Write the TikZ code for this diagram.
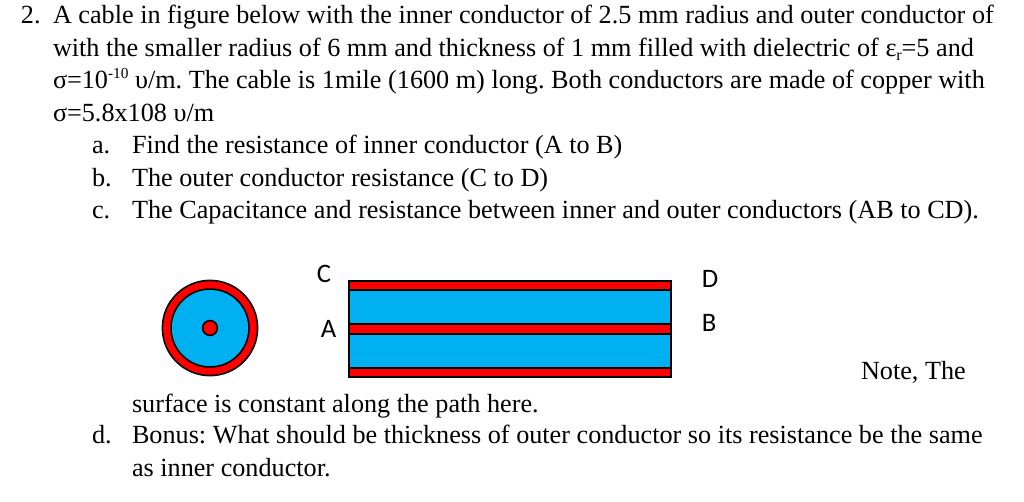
\documentclass[tikz,border=0pt]{standalone}
\usepackage{fontspec}
\setmainfont{Liberation Serif}
\newfontfamily\labelfont{Carlito}
\definecolor{cablered}{RGB}{255,0,0}
\definecolor{cableblue}{RGB}{0,176,240}
\frenchspacing
\tikzset{
  txt/.style={anchor=base west,inner sep=0pt,outer sep=0pt,font=\fontsize{19.65pt}{22pt}\selectfont},
  lbl/.style={anchor=base,inner sep=0pt,outer sep=0pt,font=\labelfont\fontsize{20pt}{22pt}\selectfont},
  metal/.style={draw=black,line width=1.2pt,fill=cablered},
  dielectric/.style={draw=black,line width=1.2pt,fill=cableblue}
}
\newcommand{\mhosym}{υ}
\begin{document}
\begin{tikzpicture}[x=0.75pt,y=-0.75pt]
\useasboundingbox (0,0) rectangle (1024,501);
\fill[white] (0,0) rectangle (1024,501);
% text
\node[txt] (n2) at (21,23.5) {2.};
\node[txt] (l1) at (53,23.5) {A cable in figure below with the inner conductor of 2.5 mm radius and outer conductor of};
\node[txt] (l2) at (53,56.5) {with the smaller radius of 6 mm and thickness of 1 mm filled with dielectric of ε\raisebox{-0.3ex}{\fontsize{12pt}{14pt}\selectfont r}=5 and};
\node[txt] (l3) at (53,88.5) {σ=10\raisebox{0.85ex}{\fontsize{11.5pt}{14pt}\selectfont -10} \mhosym/m. The cable is 1mile (1600 m) long. Both conductors are made of copper with};
\node[txt] (l4) at (53,121.5) {σ=5.8x108 \mhosym/m};
\node[txt] (ma) at (92,153.5) {a.};
\node[txt] (ta) at (132,153.5) {Find the resistance of inner conductor (A to B)};
\node[txt] (mb) at (92,186.5) {b.};
\node[txt] (tb) at (132,186.5) {The outer conductor resistance (C to D)};
\node[txt] (mc) at (92,218.5) {c.};
\node[txt] (tc) at (132,218.5) {The Capacitance and resistance between inner and outer conductors (AB to CD).};
\node[txt] (note) at (861,379.5) {Note, The};
\node[txt] (surf) at (132,412.5) {surface is constant along the path here.};
\node[txt] (md) at (92,443.5) {d.};
\node[txt] (td) at (132,443.5) {Bonus: What should be thickness of outer conductor so its resistance be the same};
\node[txt] (te) at (132,476.5) {as inner conductor.};
% cross-section
\draw[metal] (210,328) circle[radius=47.6];
\draw[dielectric] (210,328) circle[radius=39];
\draw[metal] (210,328) circle[radius=7.4];
% side view
\draw[dielectric] (349,281) rectangle (671,377);
\draw[metal] (349,281) rectangle (671,290);
\draw[metal] (349,324) rectangle (671,334);
\draw[metal] (349,368) rectangle (671,377);
% labels
\node[lbl] (C) at (324,282) {C};
\node[lbl] (A) at (328.5,337) {A};
\node[lbl] (D) at (710,287) {D};
\node[lbl] (B) at (709,331) {B};
\end{tikzpicture}
\end{document}
